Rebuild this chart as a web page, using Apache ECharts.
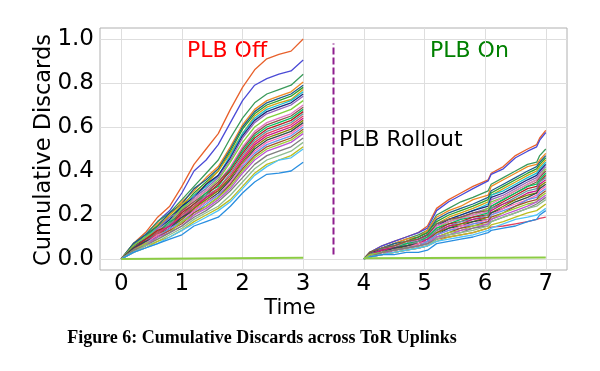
<!DOCTYPE html>
<html>
<head>
<meta charset="utf-8">
<script src="https://cdn.jsdelivr.net/npm/echarts@6/dist/echarts.min.js"></script>
<style>html,body{margin:0;padding:0;background:#fff}#c{width:600px;height:371px}</style>
</head>
<body>
<div id="c"></div>
<script>
// ---- data ----
const xTicks = [0, 1, 2, 3, 4, 5, 6, 7];
const yTicks = [0, 0.2, 0.4, 0.6, 0.8, 1.0];
const xOff = [0,0.2,0.4,0.6,0.8,1.0,1.2,1.4,1.6,1.8,2.0,2.2,2.4,2.6,2.8,3.0];
const xOn = [4.0,4.1,4.3,4.5,4.7,4.9,5.05,5.2,5.4,5.6,5.8,6.05,6.1,6.3,6.5,6.7,6.85,6.9,7.0];
const offValues = [
  [0,0.07,0.12,0.19,0.24,0.33,0.43,0.50,0.57,0.68,0.78,0.86,0.91,0.93,0.945,1.00],
  [0,0.06,0.11,0.17,0.22,0.30,0.40,0.45,0.52,0.62,0.72,0.79,0.82,0.84,0.855,0.905],
  [0,0.07,0.11,0.17,0.21,0.27,0.33,0.39,0.45,0.55,0.64,0.71,0.75,0.77,0.79,0.84],
  [0,0.06,0.10,0.16,0.20,0.26,0.31,0.37,0.42,0.51,0.61,0.68,0.72,0.74,0.76,0.805],
  [0,0.07,0.11,0.15,0.21,0.25,0.32,0.36,0.41,0.50,0.60,0.67,0.71,0.73,0.75,0.79],
  [0,0.05,0.10,0.15,0.19,0.24,0.30,0.35,0.40,0.49,0.59,0.66,0.70,0.72,0.74,0.78],
  [0,0.06,0.09,0.14,0.20,0.25,0.29,0.34,0.40,0.48,0.57,0.65,0.69,0.71,0.725,0.77],
  [0,0.05,0.10,0.14,0.18,0.23,0.29,0.33,0.38,0.47,0.57,0.64,0.68,0.70,0.72,0.76],
  [0,0.06,0.09,0.13,0.18,0.24,0.28,0.34,0.38,0.46,0.56,0.63,0.67,0.69,0.71,0.75],
  [0,0.05,0.09,0.14,0.19,0.22,0.28,0.32,0.37,0.45,0.55,0.62,0.66,0.68,0.70,0.74],
  [0,0.06,0.10,0.13,0.17,0.23,0.27,0.31,0.36,0.44,0.53,0.60,0.64,0.66,0.68,0.72],
  [0,0.05,0.08,0.13,0.17,0.21,0.27,0.31,0.35,0.42,0.51,0.58,0.62,0.64,0.66,0.70],
  [0,0.04,0.09,0.12,0.16,0.22,0.26,0.30,0.35,0.41,0.50,0.57,0.61,0.63,0.65,0.69],
  [0,0.05,0.08,0.12,0.17,0.20,0.25,0.30,0.33,0.41,0.49,0.56,0.60,0.62,0.64,0.68],
  [0,0.05,0.09,0.13,0.15,0.21,0.25,0.29,0.34,0.40,0.48,0.55,0.59,0.61,0.63,0.67],
  [0,0.04,0.08,0.11,0.16,0.19,0.24,0.29,0.32,0.39,0.47,0.54,0.58,0.60,0.62,0.66],
  [0,0.05,0.07,0.12,0.15,0.20,0.24,0.28,0.32,0.38,0.46,0.53,0.57,0.59,0.61,0.65],
  [0,0.04,0.08,0.11,0.15,0.19,0.23,0.28,0.31,0.37,0.45,0.52,0.56,0.58,0.60,0.64],
  [0,0.04,0.07,0.11,0.14,0.18,0.23,0.27,0.31,0.37,0.44,0.51,0.55,0.57,0.59,0.63],
  [0,0.05,0.08,0.10,0.14,0.19,0.22,0.26,0.30,0.36,0.43,0.50,0.54,0.56,0.58,0.62],
  [0,0.04,0.07,0.11,0.13,0.17,0.22,0.26,0.29,0.35,0.43,0.49,0.53,0.55,0.57,0.61],
  [0,0.03,0.07,0.10,0.14,0.17,0.21,0.25,0.29,0.34,0.42,0.48,0.52,0.54,0.56,0.60],
  [0,0.04,0.06,0.10,0.13,0.16,0.21,0.24,0.28,0.34,0.41,0.47,0.51,0.53,0.55,0.59],
  [0,0.04,0.07,0.09,0.12,0.17,0.20,0.24,0.28,0.33,0.40,0.46,0.50,0.52,0.54,0.58],
  [0,0.03,0.06,0.10,0.12,0.15,0.20,0.23,0.27,0.32,0.39,0.45,0.49,0.51,0.53,0.57],
  [0,0.04,0.06,0.09,0.12,0.15,0.19,0.22,0.26,0.31,0.37,0.43,0.47,0.49,0.51,0.55],
  [0,0.03,0.06,0.08,0.11,0.14,0.18,0.21,0.24,0.29,0.35,0.41,0.45,0.47,0.49,0.53],
  [0,0.03,0.05,0.08,0.10,0.13,0.17,0.20,0.23,0.27,0.33,0.39,0.43,0.45,0.47,0.51],
  [0,0.03,0.05,0.07,0.10,0.13,0.16,0.19,0.22,0.26,0.32,0.38,0.42,0.45,0.46,0.50],
  [0,0.03,0.05,0.07,0.09,0.11,0.15,0.17,0.19,0.24,0.30,0.35,0.385,0.39,0.40,0.44]
];
const onValues = [
  [0,0.03,0.06,0.08,0.10,0.12,0.15,0.23,0.27,0.30,0.33,0.36,0.39,0.42,0.47,0.50,0.52,0.55,0.585],
  [0,0.03,0.06,0.08,0.10,0.12,0.14,0.22,0.26,0.29,0.32,0.355,0.385,0.41,0.46,0.49,0.51,0.54,0.575],
  [0,0.03,0.05,0.07,0.09,0.11,0.13,0.20,0.23,0.26,0.28,0.31,0.34,0.37,0.40,0.43,0.44,0.47,0.50],
  [0,0.03,0.05,0.07,0.09,0.10,0.13,0.19,0.22,0.24,0.27,0.29,0.33,0.36,0.39,0.42,0.43,0.45,0.48],
  [0,0.02,0.05,0.07,0.08,0.10,0.12,0.18,0.21,0.23,0.25,0.28,0.31,0.34,0.37,0.40,0.42,0.44,0.47],
  [0,0.03,0.05,0.06,0.08,0.10,0.12,0.17,0.20,0.22,0.24,0.27,0.30,0.33,0.36,0.39,0.41,0.43,0.46],
  [0,0.02,0.04,0.06,0.08,0.09,0.11,0.16,0.19,0.21,0.23,0.26,0.29,0.32,0.35,0.38,0.40,0.42,0.45],
  [0,0.02,0.05,0.06,0.07,0.09,0.11,0.16,0.18,0.20,0.22,0.25,0.29,0.31,0.34,0.37,0.39,0.41,0.44],
  [0,0.03,0.04,0.06,0.07,0.09,0.11,0.15,0.18,0.20,0.22,0.24,0.28,0.30,0.33,0.36,0.38,0.40,0.43],
  [0,0.02,0.04,0.05,0.07,0.09,0.10,0.15,0.17,0.19,0.21,0.23,0.27,0.29,0.32,0.35,0.37,0.39,0.42],
  [0,0.02,0.04,0.06,0.07,0.08,0.10,0.14,0.17,0.19,0.20,0.23,0.26,0.28,0.31,0.34,0.36,0.38,0.41],
  [0,0.02,0.04,0.055,0.07,0.085,0.10,0.15,0.17,0.185,0.20,0.215,0.25,0.28,0.31,0.34,0.36,0.38,0.40],
  [0,0.03,0.05,0.06,0.08,0.09,0.11,0.16,0.18,0.19,0.21,0.22,0.24,0.27,0.30,0.33,0.35,0.37,0.40],
  [0,0.02,0.04,0.05,0.07,0.08,0.10,0.14,0.16,0.18,0.19,0.21,0.24,0.27,0.30,0.33,0.34,0.36,0.39],
  [0,0.02,0.04,0.05,0.06,0.08,0.09,0.13,0.16,0.17,0.19,0.20,0.23,0.26,0.29,0.32,0.33,0.35,0.38],
  [0,0.02,0.03,0.05,0.06,0.08,0.09,0.13,0.15,0.17,0.18,0.20,0.23,0.25,0.28,0.31,0.32,0.35,0.37],
  [0,0.01,0.02,0.03,0.04,0.05,0.06,0.09,0.10,0.11,0.12,0.14,0.145,0.15,0.16,0.17,0.18,0.185,0.19],
  [0,0.02,0.04,0.05,0.06,0.07,0.09,0.12,0.15,0.16,0.18,0.19,0.22,0.25,0.27,0.30,0.31,0.34,0.36],
  [0,0.02,0.03,0.04,0.06,0.07,0.08,0.12,0.14,0.16,0.17,0.19,0.21,0.24,0.27,0.29,0.30,0.33,0.35],
  [0,0.02,0.03,0.05,0.06,0.07,0.08,0.11,0.14,0.15,0.17,0.18,0.21,0.23,0.26,0.28,0.30,0.32,0.34],
  [0,0.01,0.03,0.04,0.05,0.07,0.08,0.11,0.13,0.15,0.16,0.18,0.20,0.23,0.25,0.27,0.29,0.31,0.33],
  [0,0.02,0.03,0.04,0.05,0.06,0.08,0.11,0.13,0.14,0.16,0.17,0.20,0.22,0.24,0.27,0.28,0.30,0.32],
  [0,0.01,0.03,0.04,0.05,0.06,0.07,0.10,0.12,0.14,0.15,0.17,0.19,0.21,0.24,0.26,0.27,0.29,0.31],
  [0,0.02,0.03,0.04,0.05,0.06,0.07,0.10,0.12,0.13,0.15,0.16,0.18,0.21,0.23,0.25,0.26,0.28,0.30],
  [0,0.01,0.02,0.04,0.05,0.06,0.07,0.10,0.11,0.13,0.14,0.16,0.18,0.20,0.22,0.24,0.26,0.27,0.29],
  [0,0.01,0.03,0.04,0.05,0.06,0.07,0.09,0.11,0.12,0.14,0.15,0.17,0.19,0.21,0.23,0.25,0.26,0.28],
  [0,0.01,0.02,0.03,0.04,0.05,0.06,0.09,0.11,0.12,0.13,0.15,0.17,0.19,0.21,0.23,0.24,0.25,0.27],
  [0,0.01,0.02,0.03,0.04,0.05,0.06,0.08,0.10,0.11,0.12,0.14,0.155,0.17,0.19,0.21,0.22,0.23,0.25],
  [0,0.01,0.02,0.03,0.04,0.05,0.06,0.08,0.09,0.10,0.11,0.13,0.14,0.16,0.18,0.19,0.20,0.21,0.23],
  [0,0.01,0.02,0.02,0.03,0.03,0.04,0.07,0.08,0.09,0.10,0.12,0.13,0.14,0.15,0.17,0.18,0.20,0.22]
];
const lineColors = ['#e8612c','#4b4bd6','#3a9a5a','#f08a24','#1f5f8b','#2ca02c','#d4a017','#17becf','#1b2a7a','#9467bd',
  '#7fd13b','#e377c2','#8c564b','#00c060','#b22222','#5f9ea0','#e0405f','#c71585','#808000','#2f4f4f',
  '#ff69b4','#6495ed','#a0522d','#9acd32','#ba55d3','#7f7f7f','#8fbc8f','#bcbd22','#4fc3f7','#2a8fe0'];
const baseX = [0, 3, 4, 7];
const baseY = [0, 0.006, 0.003, 0.007];
const rolloutX = 3.5;
const rolloutY = [0.02, 0.98];

// ---- chart ----
const chart = echarts.init(document.getElementById('c'), null, {renderer: 'canvas'});
const series = [];
offValues.forEach((vals, i) => {
  series.push({type: 'line', data: xOff.map((x, j) => [x, vals[j]]), showSymbol: false, silent: true,
    lineStyle: {width: 1.3, color: lineColors[i]}, z: 2 + i});
});
onValues.forEach((vals, i) => {
  series.push({type: 'line', data: xOn.map((x, j) => [x, vals[j]]), showSymbol: false, silent: true,
    lineStyle: {width: 1.3, color: lineColors[i]}, z: 2 + i});
});
series.push({type: 'line', data: [[baseX[0], baseY[0]], [baseX[1], baseY[1]]], showSymbol: false,
  lineStyle: {width: 2, color: '#8ccc44'}, z: 40});
series.push({type: 'line', data: [[baseX[2], baseY[2]], [baseX[3], baseY[3]]], showSymbol: false,
  lineStyle: {width: 2, color: '#8ccc44'}, z: 40});
series.push({type: 'line', data: [[rolloutX, rolloutY[0]], [rolloutX, rolloutY[1]]], showSymbol: false,
  lineStyle: {width: 2, color: '#8e1f8e', type: [7, 3]}, z: 41});

const tickFont = {fontFamily: 'DejaVu Sans', fontSize: 23, color: '#000'};
chart.setOption({
  animation: false,
  grid: {left: 100, right: 33, top: 28, bottom: 101, show: true, borderColor: '#b0b0b0', borderWidth: 1},
  xAxis: {type: 'value', min: -0.35, max: 7.35,
    axisLine: {show: false}, axisTick: {show: false, customValues: xTicks},
    axisLabel: Object.assign({customValues: xTicks, margin: 3}, tickFont),
    splitLine: {show: true, lineStyle: {color: '#dedede', width: 1}}},
  yAxis: {type: 'value', min: -0.05, max: 1.05,
    axisLine: {show: false}, axisTick: {show: false, customValues: yTicks},
    axisLabel: Object.assign({customValues: yTicks, margin: 6, formatter: v => v.toFixed(1)}, tickFont),
    splitLine: {show: true, lineStyle: {color: '#dedede', width: 1}}},
  series: series,
  graphic: [
    {type: 'text', left: 187, top: 40, style: {text: 'PLB Off', fill: '#ff0000', font: '22px "DejaVu Sans"'}},
    {type: 'text', left: 430, top: 40, style: {text: 'PLB On', fill: '#008000', font: '22px "DejaVu Sans"'}},
    {type: 'text', left: 339, top: 129, style: {text: 'PLB Rollout', fill: '#000', font: '22px "DejaVu Sans"'}},
    {type: 'text', x: 44, y: 150, rotation: Math.PI / 2,
      style: {text: 'Cumulative Discards', fill: '#000', font: '22.5px "DejaVu Sans"', align: 'center', verticalAlign: 'middle'}},
    {type: 'text', x: 290, y: 309, style: {text: 'Time', fill: '#000', font: '21px "DejaVu Sans"', align: 'center', verticalAlign: 'middle'}},
    {type: 'text', x: 262, y: 338, style: {text: 'Figure 6: Cumulative Discards across ToR Uplinks', fill: '#000',
      font: 'bold 18px "Liberation Serif"', align: 'center', verticalAlign: 'middle'}}
  ]
});
</script>
</body>
</html>
